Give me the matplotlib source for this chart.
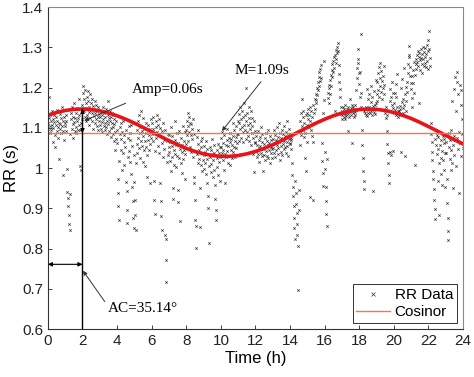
import numpy as np
import matplotlib.pyplot as plt

# RR samples, one row per hour, 40 samples per hour (1.5 min)
rr_rows = [
    [1.112,1.098,1.125,1.176,1.104,1.087,1.133,1.118,1.095,1.142,1.108,1.121,1.064,1.099,1.131,1.115,1.083,1.052,1.127,1.106,
     1.092,1.144,1.118,1.101,1.076,1.023,1.113,1.135,1.097,1.109,1.125,1.088,1.151,1.104,0.982,1.117,1.093,1.128,1.071,1.112],
    [1.104,1.131,1.092,1.118,0.998,0.941,0.927,0.905,0.884,0.862,0.846,0.935,1.085,1.122,1.137,1.098,1.151,1.109,1.076,1.128,
     1.114,1.163,1.092,1.125,1.103,1.138,1.087,1.117,1.149,1.096,1.124,1.108,1.171,1.132,1.094,1.006,0.995,1.112,1.143,1.121],
    [1.158,1.187,1.204,1.142,1.173,1.126,1.195,1.162,1.118,1.149,1.176,1.133,1.168,1.191,1.152,1.107,1.139,1.183,1.124,1.161,
     1.145,1.118,1.172,1.136,1.155,1.098,1.129,1.148,1.113,1.166,1.137,1.121,1.158,1.104,1.142,1.127,1.095,1.153,1.118,1.134],
    [1.126,1.108,1.143,1.097,1.132,1.115,1.089,1.151,1.121,1.104,1.138,1.112,1.094,1.127,1.146,1.103,1.118,1.085,1.133,1.168,
     1.109,1.124,1.092,1.141,1.116,1.099,1.128,1.077,1.113,1.136,1.101,1.084,1.122,1.067,1.109,1.091,1.046,1.118,1.072,1.095],
    [1.062,0.972,0.938,0.905,0.871,1.018,1.085,1.102,1.046,1.113,1.072,0.995,1.091,1.038,1.117,1.064,1.008,1.083,1.121,1.052,
     1.096,0.966,0.942,0.895,0.863,1.027,1.075,1.104,1.043,1.088,1.015,1.069,0.985,1.107,1.054,0.953,0.918,0.877,0.852,1.032],
    [0.965,0.921,0.884,0.847,1.012,1.061,1.094,1.038,1.117,1.076,1.049,1.132,1.087,1.025,1.103,1.068,1.141,1.056,1.092,1.015,
     1.079,1.124,1.044,1.098,1.067,1.006,1.113,1.052,1.088,1.033,0.978,1.071,1.106,1.045,1.083,0.962,1.097,1.059,1.122,1.074],
    [1.084,1.112,1.097,1.126,1.068,0.968,0.921,0.887,1.043,1.103,1.118,1.075,1.132,1.091,1.056,1.107,1.083,1.121,1.038,1.099,
     0.962,0.918,0.881,0.846,1.062,1.093,1.027,1.112,1.071,1.047,1.095,0.834,0.823,0.771,0.718,1.015,1.067,1.033,1.086,1.052],
    [1.041,1.083,1.017,1.065,1.102,0.992,1.054,1.028,1.079,0.951,0.924,1.046,1.009,1.071,1.036,1.118,1.058,1.002,1.087,1.031,
     0.946,0.915,1.063,1.024,1.093,1.048,0.868,1.013,1.076,1.039,1.057,0.987,1.104,1.022,1.068,1.045,0.974,1.091,1.034,1.061],
    [1.095,1.118,1.082,1.136,1.104,1.067,1.127,1.091,1.112,1.053,1.083,1.109,1.041,1.098,1.072,1.121,1.028,1.086,0.978,0.963,
     0.921,0.872,0.856,0.801,1.034,1.077,1.012,1.061,1.094,1.045,1.023,0.951,0.853,1.068,1.007,1.052,0.992,1.074,1.038,1.019],
    [1.032,1.056,0.998,1.041,1.014,1.067,0.985,1.023,1.048,0.962,0.931,0.902,0.815,1.006,1.052,1.027,0.991,1.044,1.011,1.072,
     1.035,0.978,1.019,1.058,0.996,1.038,0.958,0.924,0.897,0.872,1.003,1.046,1.024,0.984,1.061,1.015,1.037,0.969,1.052,1.028],
    [1.052,1.074,1.038,1.091,1.021,1.063,1.045,0.996,1.082,1.034,0.962,1.058,1.027,1.069,1.043,1.097,1.012,1.055,1.076,1.031,
     1.064,1.008,1.087,1.046,1.072,1.025,1.058,1.112,1.039,1.081,1.053,1.094,1.067,1.028,1.078,1.104,1.049,1.086,1.062,1.118],
    [1.085,1.112,1.067,1.134,1.098,1.152,1.076,1.121,1.103,1.143,1.089,1.127,1.064,1.108,1.162,1.095,1.131,1.073,1.117,1.199,
     1.091,1.138,1.106,1.081,1.125,1.152,1.068,1.113,1.097,1.142,1.058,1.124,1.087,1.104,1.036,1.075,1.118,0.991,1.062,1.093],
    [1.064,1.042,1.081,1.027,1.058,1.093,1.036,1.071,1.049,1.016,1.077,1.054,1.102,1.038,1.066,1.029,1.085,1.047,0.992,1.061,
     1.033,1.074,1.052,1.019,1.088,1.043,1.068,1.031,1.057,1.096,1.024,1.062,1.045,1.079,1.012,1.053,1.037,1.071,1.048,1.026],
    [1.072,1.051,1.094,1.038,1.063,1.082,1.027,1.069,1.045,1.103,1.058,1.036,1.077,1.049,1.112,1.064,1.021,1.087,1.056,1.041,
     1.074,1.095,1.033,1.061,1.086,1.047,1.068,1.105,1.052,1.079,1.091,1.037,1.066,1.118,1.054,1.083,1.029,1.072,1.098,1.061],
    [1.062,1.074,1.047,1.071,1.012,0.982,0.953,0.931,0.905,0.876,0.852,0.823,0.967,0.938,0.911,0.889,0.861,0.834,0.806,0.697,
     0.946,0.897,1.058,1.092,1.118,1.083,1.137,1.104,1.171,1.126,1.095,1.142,1.078,1.113,1.025,1.087,0.992,1.131,1.064,1.108],
    [1.138,1.121,1.146,1.103,1.132,0.928,1.117,1.152,1.094,1.143,1.126,1.081,1.157,1.064,0.921,1.138,1.112,1.148,1.173,1.162,
     1.185,1.169,1.198,1.181,1.213,1.194,1.226,1.205,1.238,1.217,1.246,1.224,1.257,1.062,1.018,0.987,0.956,1.138,1.169,1.265],
    [1.041,0.998,0.952,0.918,0.887,0.856,1.023,1.174,1.186,1.162,1.198,1.207,1.183,1.219,1.231,1.204,1.245,1.226,1.258,1.238,
     1.267,1.249,1.275,1.143,1.281,1.262,1.294,1.271,1.302,1.286,1.311,1.292,1.256,1.233,1.215,1.197,1.176,1.152,1.134,1.121],
    [1.143,1.131,1.152,1.138,1.126,1.147,1.135,1.121,1.156,1.142,1.129,1.148,1.137,1.093,1.151,1.134,1.145,1.127,1.172,1.139,
     1.149,1.133,1.158,1.141,1.062,1.136,1.153,1.128,1.146,1.139,1.131,1.157,1.144,1.195,1.223,1.248,1.271,1.296,1.262,1.237],
    [1.208,1.176,1.239,1.334,1.187,1.152,1.096,1.058,1.024,0.993,0.968,0.947,1.141,1.137,1.148,1.132,1.153,1.129,1.196,1.144,
     1.138,1.172,1.151,1.183,1.136,1.147,1.204,1.142,1.165,1.131,1.178,1.154,0.944,1.139,1.146,1.191,1.157,1.134,1.219,1.162],
    [1.184,1.213,1.167,1.236,1.195,1.251,1.178,1.224,1.203,1.262,1.189,1.241,1.216,1.172,1.228,1.198,1.255,1.207,1.183,1.145,
     1.137,1.124,1.153,1.132,1.092,1.061,1.037,1.012,0.984,0.962,1.041,1.168,1.197,1.176,1.032,1.214,1.158,1.043,1.186,1.149],
    [1.162,1.138,1.187,1.145,1.209,1.131,1.176,1.152,1.234,1.143,1.128,1.141,1.137,1.155,1.133,1.146,1.198,1.039,1.164,1.221,
     1.149,1.172,1.136,1.248,1.157,1.183,1.029,1.141,1.201,1.166,1.188,1.214,1.237,1.259,1.281,1.303,1.276,1.252,1.228,1.211],
    [1.196,1.174,1.228,1.153,1.245,1.212,1.187,1.263,1.231,1.008,1.258,1.272,1.246,1.281,1.264,1.292,1.253,1.276,1.161,1.287,
     1.268,1.245,1.296,1.273,1.259,1.284,1.236,1.302,1.271,1.255,1.289,1.262,1.298,1.277,1.251,1.283,1.306,1.266,1.291,1.247],
    [1.318,1.342,1.296,1.274,1.253,1.112,1.086,1.064,1.041,1.019,0.994,0.972,0.947,0.921,0.898,0.874,1.072,1.096,1.057,1.083,
     1.034,0.968,1.078,1.047,1.012,0.883,1.091,1.058,1.026,0.985,1.069,1.043,0.957,1.081,1.021,1.062,0.996,1.073,1.038,0.954],
    [1.064,1.038,0.972,0.914,0.876,0.843,0.821,1.052,1.087,1.023,1.071,0.996,1.046,1.094,1.012,1.168,1.058,0.951,1.081,1.196,
     1.033,1.227,1.069,1.142,1.006,1.214,1.074,1.238,1.047,1.183,0.938,1.091,1.206,1.062,1.157,1.029,1.193,1.085,1.121,1.051],
]
samples_per_hour = 40

# cosinor fit, every 0.5 h
cos_t = np.arange(0, 24.01, 0.5)
cos_rr = [1.1316,1.1383,1.1432,1.1461,1.1470,1.1457,1.1424,1.1371,1.1301,1.1216,1.1119,1.1013,1.0902,
          1.0791,1.0683,1.0582,1.0491,1.0415,1.0355,1.0314,1.0293,1.0293,1.0314,1.0355,1.0415,1.0491,
          1.0582,1.0683,1.0791,1.0903,1.1013,1.1119,1.1216,1.1301,1.1371,1.1424,1.1457,1.1470,1.1461,
          1.1432,1.1383,1.1316,1.1234,1.1138,1.1034,1.0924,1.0813,1.0705,1.0602]
mesor = 1.087
peak_t, peak_rr = 2.0, 1.147

rr = np.concatenate(rr_rows)
t = np.arange(len(rr)) / samples_per_hour

sans = 'Liberation Sans'
serif = 'Liberation Serif'

fig = plt.figure(figsize=(4.74, 3.77), dpi=100)
ax = fig.add_axes([0.101, 0.127, 0.876, 0.854])

ax.plot(t, rr, 'x', color='#333333', markersize=1.7, markeredgewidth=0.5, label='RR Data')
ax.plot(cos_t, cos_rr, '-', color='#e8141a', linewidth=2.6)
ax.axhline(mesor, color='#f0784e', linewidth=1.0, label='Cosinor')

# acrophase / amplitude marks
ax.plot([peak_t, peak_t], [0.6, peak_rr], color='k', linewidth=1.0)
ax.annotate('', xy=(peak_t, peak_rr), xytext=(peak_t, mesor),
            arrowprops=dict(arrowstyle='<|-|>', color='k', lw=0.8, mutation_scale=6, shrinkA=0, shrinkB=0))
ax.annotate('', xy=(0, 0.761), xytext=(peak_t, 0.761),
            arrowprops=dict(arrowstyle='<|-|>', color='k', lw=0.8, mutation_scale=6, shrinkA=0, shrinkB=0))

ax.annotate('Amp=0.06s', xy=(2.1, 1.118), xytext=(4.85, 1.195), family=serif, fontsize=11,
            va='center', ha='left',
            arrowprops=dict(arrowstyle='-|>', color='#333333', lw=0.7, mutation_scale=6, shrinkA=8, shrinkB=0,
                            relpos=(0.15, 0.0)))
ax.annotate('M=1.09s', xy=(10.06, 1.092), xytext=(10.8, 1.243), family=serif, fontsize=11,
            va='center', ha='left',
            arrowprops=dict(arrowstyle='-|>', color='#333333', lw=0.7, mutation_scale=6, shrinkA=2, shrinkB=0,
                            relpos=(0.55, 0.0)))
ax.annotate('AC=35.14°', xy=(2.03, 0.745), xytext=(3.45, 0.652), family=serif, fontsize=11,
            va='center', ha='left',
            arrowprops=dict(arrowstyle='-|>', color='#333333', lw=0.7, mutation_scale=6, shrinkA=0, shrinkB=0,
                            relpos=(0.0, 0.7)))

ax.set_xlim(0, 24)
ax.set_ylim(0.6, 1.4)
ax.set_xticks(np.arange(0, 25, 2))
ax.set_yticks(np.arange(0.6, 1.41, 0.1))
ax.set_yticklabels(['0.6', '0.7', '0.8', '0.9', '1', '1.1', '1.2', '1.3', '1.4'])
ax.tick_params(direction='in', length=3, width=0.6, labelsize=11, colors='#222222')
for lab in ax.get_xticklabels() + ax.get_yticklabels():
    lab.set_family(sans)
for side in ['left', 'bottom']:
    ax.spines[side].set_color('#333333')
for side in ['top', 'right']:
    ax.spines[side].set_color('#888888')
for s in ax.spines.values():
    s.set_linewidth(0.8)

ax.set_xlabel('Time (h)', family=sans, fontsize=12, labelpad=2)
ax.set_ylabel('RR (s)', family=sans, fontsize=12, labelpad=2)

leg = ax.legend(loc='lower right', prop={'family': sans, 'size': 11}, fancybox=False,
                framealpha=1, edgecolor='#333333', handlelength=2.2, handletextpad=0.3,
                borderpad=0.25, labelspacing=0.2, borderaxespad=0.4, markerscale=1.4)
leg.get_frame().set_linewidth(0.7)

fig.savefig('out.png', dpi=100)
